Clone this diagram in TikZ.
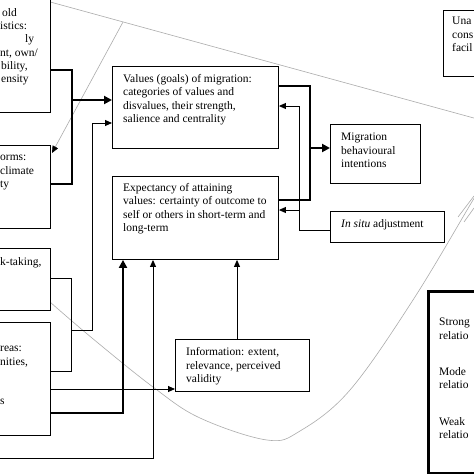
\documentclass[tikz,border=0pt]{standalone}
\usepackage{fontspec}
\setmainfont{Liberation Serif}
\usetikzlibrary{arrows.meta}
\begin{document}
\begin{tikzpicture}[x=1pt,y=-1pt,
  box/.style={draw, line width=0.9pt, fill=white, inner sep=0pt, anchor=north west},
  txt/.style={font=\fontsize{11.5}{13.5}\selectfont, align=left, inner sep=0pt, anchor=north west},
  frag/.style={font=\fontsize{11.5}{13.5}\selectfont, inner sep=0pt, anchor=base west},
  thinline/.style={line width=0.9pt},
  thickline/.style={line width=2.8pt},
  tarr/.style={line width=0.9pt, -{Triangle[length=7pt,width=6pt]}},
  karr/.style={line width=2.8pt, -{Triangle[length=8pt,width=8pt]}},
  gline/.style={draw=gray!65, line width=0.6pt}]
\useasboundingbox (0,0) rectangle (474,474);
\clip (0,0) rectangle (474,474);
\fill[white] (0,0) rectangle (474,474);

% grey background lines
\draw[gline] (43,0) -- (480,119.7);
\draw[gline, -{Triangle[length=7pt,width=6pt,color=black]}] (123,22) -- (52,153);
\draw[gline] plot[smooth, tension=0.6] coordinates {(50,302) (92,338) (153,387) (200,418) (267,440) (300,431) (350,390) (413,300) (473,200) (480,189)};
\draw[gline] (458,217) -- (474,196);
\draw[gline] (464,222) -- (474,208);

% boxes
\node[box, minimum width=120pt, minimum height=122pt] (hh) at (-70,-10) {};
\node[box, minimum width=120pt, minimum height=83pt] (norms) at (-70,145) {};
\node[box, minimum width=120pt, minimum height=62pt] (risk) at (-70,248) {};
\node[box, minimum width=120pt, minimum height=113pt] (opp) at (-70,322) {};
\node[box, minimum width=166pt, minimum height=82pt] (values) at (112,66) {};
\node[box, minimum width=166pt, minimum height=83pt] (expect) at (112,176) {};
\node[box, minimum width=90pt, minimum height=59pt] (mig) at (330,124) {};
\node[box, minimum width=114pt, minimum height=31pt] (insitu) at (330,211) {};
\node[box, minimum width=134pt, minimum height=52pt] (info) at (175,339) {};
\node[box, minimum width=90pt, minimum height=66pt] (unant) at (443,10) {};
\node[box, line width=2.6pt, minimum width=100pt, minimum height=182pt] (legend) at (427,290) {};

% texts
\node[frag] (h1) at (2,16.5) {old};
\node[frag] (h2) at (0,29.5) {istics:};
\node[frag] (h3) at (25,42.5) {ly};
\node[frag] (h4) at (0,56) {nt, own/};
\node[frag] (h5) at (1,69) {bility,};
\node[frag] (h6) at (1,82.5) {ensity};
\node[frag] (n1t) at (0,160.5) {orms:};
\node[frag] (n2t) at (0,174.5) {climate};
\node[frag] (n3t) at (0,187.5) {ty};
\node[frag] (r1t) at (0,265.5) {k-taking,};
\node[frag] (o1t) at (0,351.5) {reas:};
\node[frag] (o2t) at (0,365) {nities,};
\node[frag] (o3t) at (0,404) {s};

\node[txt] (valuesT) at (123,74) {Values (goals) of migration:\\categories of values and\\disvalues, their strength,\\salience and centrality};
\node[txt] (expectT) at (123,183) {Expectancy of attaining\\values: certainty of outcome to\\self or others in short-term and\\long-term};
\node[txt] (migT) at (341,133) {Migration\\behavioural\\intentions};
\node[frag] (insituT) at (341,227) {\textit{In situ} adjustment};
\node[txt] (infoT) at (186,347.5) {Information: extent,\\relevance, perceived\\validity};
\node[txt] (unantT) at (452,17) {Una\\cons\\facil};
\node[txt] (legS) at (439,318) {Strong\\relatio};
\node[txt] (legM) at (439,367) {Mode\\relatio};
\node[txt] (legW) at (439,417) {Weak\\relatio};

% connectors
\coordinate (j1) at (72,70);
\coordinate (j2) at (72,184);
\coordinate (j3) at (72,100);
\draw[thickline] (j1 -| hh.east) -- (j1) -- (j2) -- (j2 -| norms.east);
\draw[karr] (j3) -- (j3 -| values.west);

\coordinate (k1) at (71,278);
\coordinate (k2) at (71,371);
\coordinate (k3) at (71,330);
\coordinate (k4) at (92,330);
\coordinate (k5) at (92,123);
\draw[thinline] (k1 -| risk.east) -- (k1) -- (k2) -- (k2 -| opp.east);
\draw[tarr] (k3) -- (k4) -- (k5) -- (k5 -| values.west);

\coordinate (m1) at (0,389);
\draw[tarr] (m1 -| opp.east) -- (m1 -| info.west);

\coordinate (q1) at (123,413);
\draw[karr] (q1 -| opp.east) -- (q1) -- (q1 |- expect.south);

\coordinate (p0) at (-5,458);
\coordinate (p1) at (153,458);
\draw[tarr] (p0) -- (p1) -- (p1 |- expect.south);

\coordinate (u1) at (237,0);
\draw[tarr] (u1 |- info.north) -- (u1 |- expect.south);

\coordinate (r1) at (310,86);
\coordinate (r2) at (310,200);
\coordinate (r3) at (310,148);
\draw[thickline] (r1 -| values.east) -- (r1) -- (r2) -- (r2 -| expect.east);
\draw[karr] (r3) -- (r3 -| mig.west);

\coordinate (s1) at (299,230);
\coordinate (s2) at (299,106);
\coordinate (s3) at (299,210);
\draw[tarr] (s1 -| insitu.west) -- (s1) -- (s2) -- (s2 -| values.east);
\draw[tarr] (s3) -- (s3 -| expect.east);
\end{tikzpicture}
\end{document}
